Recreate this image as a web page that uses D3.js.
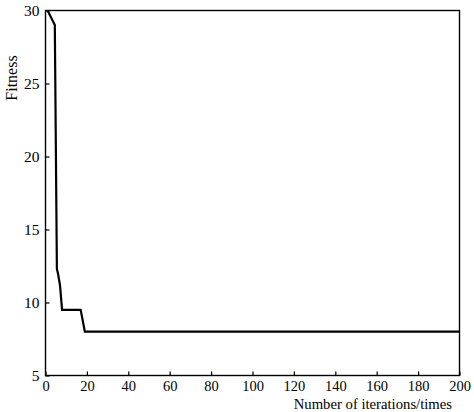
<!DOCTYPE html>
<html><head><meta charset="utf-8">
<script src="https://cdn.jsdelivr.net/npm/d3@7"></script>
<style>
body{margin:0;background:#fff;}
text{font-family:"Liberation Serif","Times New Roman",serif;fill:#000;}
</style></head>
<body><svg id="c" width="474" height="412"></svg>
<script>
const iterations = [1, 4.5, 5.5, 6, 7, 8, 17, 19, 200];
const fitness = [30, 29, 12.3, 12, 11.2, 9.5, 9.5, 8, 8];
const xTicks = [0, 20, 40, 60, 80, 100, 120, 140, 160, 180, 200];
const yTicks = [5, 10, 15, 20, 25, 30];
const xTitle = "Number of iterations/times";
const yTitle = "Fitness";

const svg = d3.select("#c");
const L = 45.5, R = 459.5, T = 10.5, B = 375.5;
const x = d3.scaleLinear().domain([0, 200]).range([L, R]);
const y = d3.scaleLinear().domain([5, 30]).range([B, T]);

svg.append("rect").attr("x", L).attr("y", T).attr("width", R - L).attr("height", B - T)
  .attr("fill", "none").attr("stroke", "#000").attr("stroke-width", 1.4);

const xAxis = svg.append("g").attr("transform", `translate(0,${B})`)
  .call(d3.axisBottom(x).tickValues(xTicks).tickSize(-4).tickPadding(5).tickFormat(d3.format("d")));
xAxis.select(".domain").remove();
xAxis.selectAll("line").attr("stroke-width", 1.2);
xAxis.selectAll("text").attr("font-size", 14.5).attr("font-family", "Liberation Serif");

const yAxis = svg.append("g").attr("transform", `translate(${L},0)`)
  .call(d3.axisLeft(y).tickValues(yTicks).tickSize(-4).tickPadding(6).tickFormat(d3.format("d")));
yAxis.select(".domain").remove();
yAxis.selectAll("line").attr("stroke-width", 1.2);
yAxis.selectAll("text").attr("font-size", 15.5).attr("font-family", "Liberation Serif");

svg.append("text").attr("x", 452).attr("y", 409).attr("text-anchor", "end")
  .attr("font-size", 14.7).text(xTitle);
svg.append("text").attr("transform", "translate(17,78) rotate(-90)").attr("text-anchor", "middle")
  .attr("font-size", 16).text(yTitle);

const pts = iterations.map((d, i) => [d, fitness[i]]);
svg.append("path").datum(pts)
  .attr("d", d3.line().x(d => x(d[0])).y(d => y(d[1])))
  .attr("fill", "none").attr("stroke", "#000").attr("stroke-width", 2.2).attr("stroke-linejoin", "miter");
</script></body></html>
